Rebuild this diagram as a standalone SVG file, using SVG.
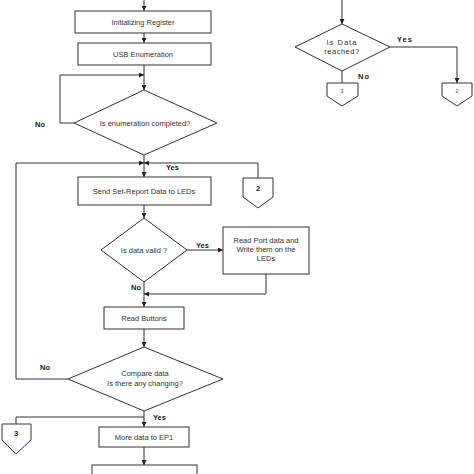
<svg xmlns="http://www.w3.org/2000/svg" width="474" height="474" viewBox="0 0 474 474">
<defs>
<marker id="ah" viewBox="0 0 10 10" refX="10" refY="5" markerWidth="5" markerHeight="5" orient="auto"><path d="M0,0 L10,5 L0,10 z" fill="#222"/></marker>
<style>
.s{fill:#fff;stroke:#333;stroke-width:1}
.c{fill:none;stroke:#333;stroke-width:1}
.t{font-family:"Liberation Sans",Arial,sans-serif;font-size:7.5px;fill:#333;text-anchor:middle}
.b{font-family:"Liberation Sans",Arial,sans-serif;font-size:7.5px;font-weight:bold;fill:#222}
</style>
</defs>
<rect width="474" height="474" fill="#fff"/>
<g id="connectors">
<path class="c" d="M144,0 V11" marker-end="url(#ah)"/>
<path class="c" d="M144,33 V43" marker-end="url(#ah)"/>
<path class="c" d="M144,65 V90" marker-end="url(#ah)"/>
<path class="c" d="M74,123 H60 V75 H144" marker-end="url(#ah)"/>
<path class="c" d="M144,155 V177" marker-end="url(#ah)"/>
<path class="c" d="M16,379 V163 H144" marker-end="url(#ah)"/>
<path class="c" d="M258,178 V163 H144" marker-end="url(#ah)"/>
<path class="c" d="M144,205 V218" marker-end="url(#ah)"/>
<path class="c" d="M187,250 H223" marker-end="url(#ah)"/>
<path class="c" d="M266,274 V294 H144" marker-end="url(#ah)"/>
<path class="c" d="M144,282 V307" marker-end="url(#ah)"/>
<path class="c" d="M144,329 V347" marker-end="url(#ah)"/>
<path class="c" d="M68,379 H16"/>
<path class="c" d="M144,411 V427" marker-end="url(#ah)"/>
<path class="c" d="M144,417 H16 V424"/>
<path class="c" d="M144,447 V465" marker-end="url(#ah)"/>
<path class="c" d="M342,0 V24" marker-end="url(#ah)"/>
<path class="c" d="M342,71 V83"/>
<path class="c" d="M390,47 H457 V83" marker-end="url(#ah)"/>
</g>
<g id="n-init"><rect class="s" x="75" y="11" width="136" height="22"/><text class="t" x="143" y="24.5">Initializing Register</text></g>
<g id="n-usb"><rect class="s" x="78" y="43" width="133" height="22"/><text class="t" x="143" y="56.5">USB  Enumeration</text></g>
<g id="n-enum"><polygon class="s" points="144,90 217,123 144,155 74,123"/><text class="t" x="145" y="126">Is enumeration completed?</text></g>
<g id="n-send"><rect class="s" x="78" y="177" width="133" height="28"/><text class="t" x="144" y="193.5">Send Set-Report Data to LEDs</text></g>
<g id="n-valid"><polygon class="s" points="144,218 187,250 144,282 101,250"/><text class="t" x="144" y="252.5">Is data valid ?</text></g>
<g id="n-readport"><rect class="s" x="223" y="227" width="86" height="47"/><text class="t" x="266" y="243">Read Port data and</text><text class="t" x="266" y="252">Write them on the</text><text class="t" x="266" y="261">LEDs</text></g>
<g id="n-readbtn"><rect class="s" x="104" y="307" width="80" height="22"/><text class="t" x="144" y="320.5">Read Buttons</text></g>
<g id="n-compare"><polygon class="s" points="144,347 223,379 144,411 68,379"/><text class="t" x="145" y="376">Compare data</text><text class="t" x="145" y="386">Is there any changing?</text></g>
<g id="n-more"><rect class="s" x="99" y="427" width="90" height="20"/><text class="t" x="144" y="439.5">More data to EP1</text></g>
<g id="n-last"><rect class="s" x="92" y="465" width="105" height="20"/></g>
<g id="n-p2a"><polygon class="s" points="243,178 273,178 273,197 258,208 243,197"/><text class="b" x="258" y="191" text-anchor="middle">2</text></g>
<g id="n-p3a"><polygon class="s" points="2,424 31,424 31,440 16,454 2,440"/><text class="b" x="16" y="436" text-anchor="middle">3</text></g>
<g id="n-data"><polygon class="s" points="342,24 390,47 342,71 295,47"/><text class="t" x="342" y="45" style="letter-spacing:1px">Is Data</text><text class="t" x="342" y="54" style="letter-spacing:0.5px">reached?</text></g>
<g id="n-p3b"><polygon class="s" points="327,83 358,83 358,96 342,106 327,96"/><text class="t" x="342" y="93" style="font-size:5px">3</text></g>
<g id="n-p2b"><polygon class="s" points="442,83 472,83 472,96 457,106 442,96"/><text class="t" x="457" y="93" style="font-size:5px">2</text></g>
<g id="labels">
<text class="b" x="35" y="127">No</text>
<text class="b" x="166" y="170">Yes</text>
<text class="b" x="196" y="248">Yes</text>
<text class="b" x="131" y="290">No</text>
<text class="b" x="40" y="370">No</text>
<text class="b" x="153" y="420">Yes</text>
<text class="b" x="397" y="42" style="letter-spacing:1px">Yes</text>
<text class="b" x="358" y="79" style="letter-spacing:1px">No</text>
</g>
</svg>
